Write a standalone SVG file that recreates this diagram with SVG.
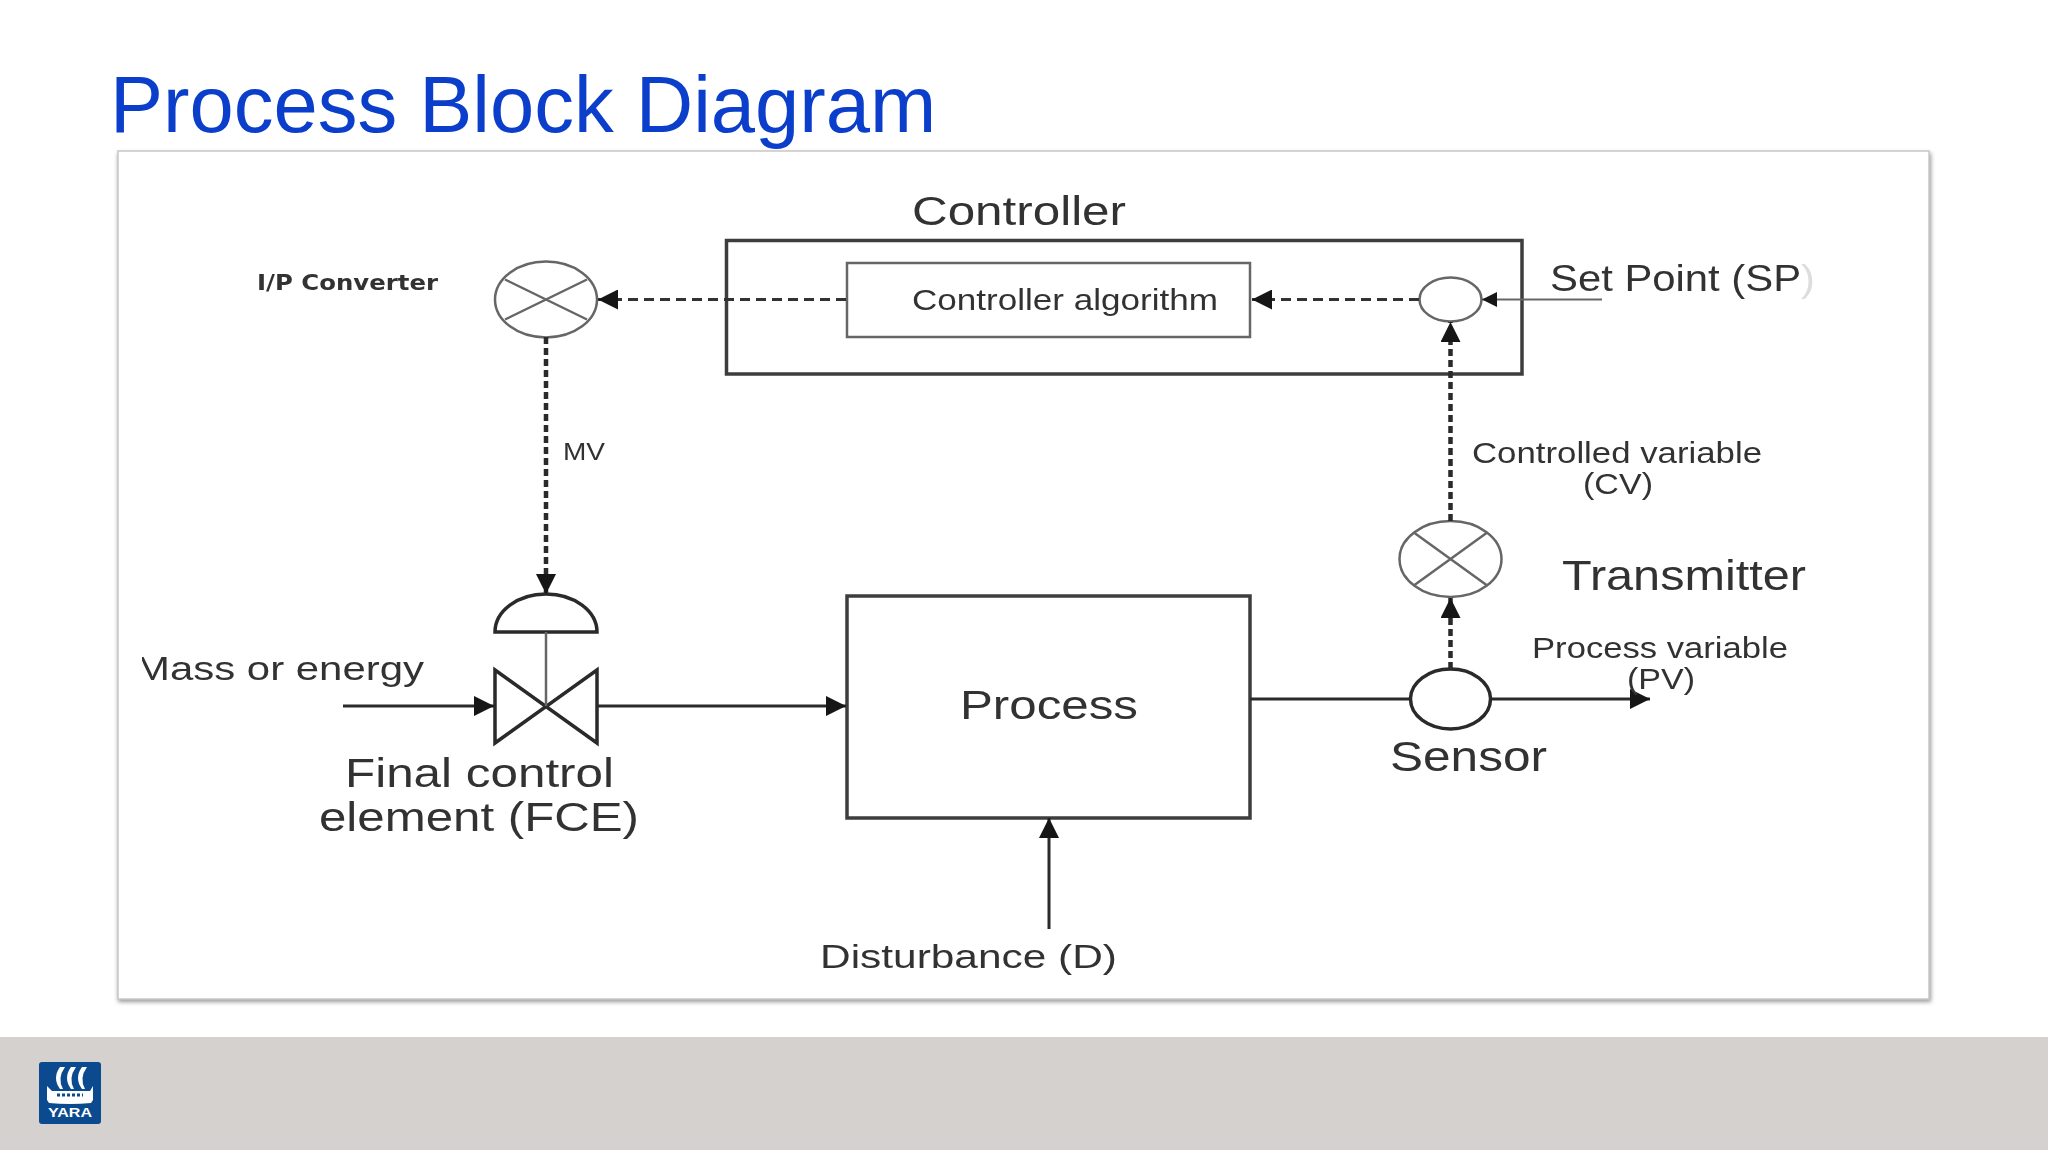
<svg xmlns="http://www.w3.org/2000/svg" width="2048" height="1152" viewBox="0 0 2048 1152">
<defs>
<style>
text{font-family:"Liberation Sans",Arial,sans-serif;fill:#333}
.box{fill:#fff;stroke:#3c3c3c;stroke-width:3.5}
.thin{fill:#fff;stroke:#666;stroke-width:2.5}
.line{fill:none;stroke:#2a2a2a;stroke-width:3}
.dash{fill:none;stroke:#333;stroke-width:3;stroke-dasharray:10 6}
.vdash{fill:none;stroke:#2a2a2a;stroke-width:4.5;stroke-dasharray:7 4}
</style>
<marker id="arr" viewBox="0 0 10 10" refX="10" refY="5" markerWidth="24" markerHeight="20" markerUnits="userSpaceOnUse" orient="auto"><path d="M0 0L10 5L0 10Z" fill="#151515"/></marker>
<marker id="arrS" viewBox="0 0 10 10" refX="10" refY="5" markerWidth="17" markerHeight="15" markerUnits="userSpaceOnUse" orient="auto"><path d="M0 0L10 5L0 10Z" fill="#151515"/></marker>
<filter id="soft" x="-2%" y="-2%" width="104%" height="104%"><feGaussianBlur stdDeviation="0.7"/></filter>
<filter id="sh" x="-2%" y="-2%" width="104%" height="104%"><feGaussianBlur stdDeviation="2"/></filter>
<clipPath id="massClip"><rect x="142" y="640" width="300" height="60"/></clipPath>
</defs>
<rect width="2048" height="1152" fill="#fff"/>
<text x="110" y="132" font-size="79.5" style="fill:#0b3ecb">Process Block Diagram</text>
<rect x="118" y="153" width="1813" height="849" fill="#9a9a9a" filter="url(#sh)"/>
<rect x="118" y="151" width="1811" height="848" fill="#fff" stroke="#c8c8c8" stroke-width="1.5"/>
<g filter="url(#soft)">
<g id="controller"><rect class="box" x="726.5" y="240.5" width="795.5" height="133.5"/><text x="912" y="224.500" font-size="40" textLength="214" lengthAdjust="spacingAndGlyphs">Controller</text></g>
<g id="algorithm"><rect class="thin" x="847" y="263" width="403" height="74"/><text x="912" y="309.500" font-size="30" textLength="306" lengthAdjust="spacingAndGlyphs">Controller algorithm</text></g>
<g id="ip-converter"><ellipse class="thin" cx="546" cy="299.500" rx="51" ry="38"/><path class="thin" d="M505 279.500L587 319.500M505 319.500L587 279.500"/><text x="257" y="290" font-size="22" font-weight="700" textLength="181" lengthAdjust="spacingAndGlyphs" style="font-family:'DejaVu Sans',sans-serif">I/P Converter</text></g>
<g id="summer"><ellipse class="thin" cx="1450.500" cy="299.500" rx="31" ry="22"/></g>
<g id="transmitter"><ellipse class="thin" cx="1450.500" cy="559" rx="51" ry="38"/><path class="thin" d="M1414.500 533L1486.500 585M1414.500 585L1486.500 533"/><text x="1562" y="589.500" font-size="43" textLength="244" lengthAdjust="spacingAndGlyphs">Transmitter</text></g>
<g id="sensor"><ellipse cx="1450.500" cy="699" rx="40" ry="30" fill="#fff" stroke="#2a2a2a" stroke-width="3.5"/><text x="1390" y="771" font-size="42" textLength="157" lengthAdjust="spacingAndGlyphs">Sensor</text></g>
<g id="process"><rect class="box" x="847" y="596" width="403" height="222"/><text x="960" y="719" font-size="40" textLength="178" lengthAdjust="spacingAndGlyphs">Process</text></g>
<g id="valve"><path d="M495 670L597 743V670L495 743Z" fill="#fff" stroke="#2a2a2a" stroke-width="3.500"/><path d="M495 632A51 38 0 0 1 597 632Z" fill="#fff" stroke="#2a2a2a" stroke-width="3.500"/><path d="M546 632V706" stroke="#666" stroke-width="2.500"/>
<text x="345" y="787" font-size="40" textLength="269" lengthAdjust="spacingAndGlyphs">Final control</text><text x="319" y="830.500" font-size="40" textLength="320" lengthAdjust="spacingAndGlyphs">element (FCE)</text></g>
<g id="connectors">
<path class="line" d="M343 706H494" marker-end="url(#arr)"/>
<path class="line" d="M597 706H846" marker-end="url(#arr)"/>
<path class="line" d="M1049 929V818" marker-end="url(#arr)"/>
<path class="line" d="M1250 699H1410"/>
<path class="line" d="M1490 699H1650" marker-end="url(#arr)"/>
<path d="M1602 299.500H1482" fill="none" stroke="#666" stroke-width="2" marker-end="url(#arrS)"/>
<path class="dash" d="M1419 299.500H1252" marker-end="url(#arr)"/>
<path class="dash" d="M846 299.500H598" marker-end="url(#arr)"/>
<path class="vdash" d="M546 337V594" marker-end="url(#arr)"/>
<path class="vdash" d="M1450.500 521V322" marker-end="url(#arr)"/>
<path class="vdash" d="M1450.500 669V598" marker-end="url(#arr)"/>
</g>
<g id="labels">
<text x="1550" y="291" font-size="37" textLength="265" lengthAdjust="spacingAndGlyphs">Set Point (SP<tspan style="fill:#ddd">)</tspan></text>
<text x="563" y="459.500" font-size="24" textLength="42" lengthAdjust="spacingAndGlyphs">MV</text>
<text x="1472" y="462.500" font-size="30" textLength="290" lengthAdjust="spacingAndGlyphs">Controlled variable</text>
<text x="1583" y="494" font-size="30" textLength="70" lengthAdjust="spacingAndGlyphs">(CV)</text>
<text x="1532" y="657.500" font-size="29" textLength="256" lengthAdjust="spacingAndGlyphs">Process variable</text>
<text x="1627" y="688.500" font-size="29" textLength="68" lengthAdjust="spacingAndGlyphs">(PV)</text>
<text x="135" y="680" font-size="34" textLength="289" lengthAdjust="spacingAndGlyphs" clip-path="url(#massClip)">Mass or energy</text>
<text x="820" y="968" font-size="34" textLength="297" lengthAdjust="spacingAndGlyphs">Disturbance (D)</text>
</g>
</g>
<rect x="0" y="1037" width="2048" height="113" fill="#d5d1ce"/>
<g id="logo">
<rect x="39" y="1062" width="62" height="62" rx="3" fill="#0b4a8f"/>
<path d="M60 1067q-8 11 0 22h3q-6-11 2-22zM71 1067q-8 11 0 22h3q-6-11 2-22zM82 1067q-8 11 0 22h3q-6-11 2-22z" fill="#fff"/>
<path d="M47 1086l5 5h38l3-5v14l-2 3q-21 2-42 0l-2-3z" fill="#fff"/>
<path d="M57 1095H83" stroke="#0b4a8f" stroke-width="3" stroke-dasharray="3 2"/>
<text x="48" y="1117" font-size="13" font-weight="700" textLength="44" lengthAdjust="spacingAndGlyphs" style="fill:#fff">YARA</text>
</g>
</svg>
